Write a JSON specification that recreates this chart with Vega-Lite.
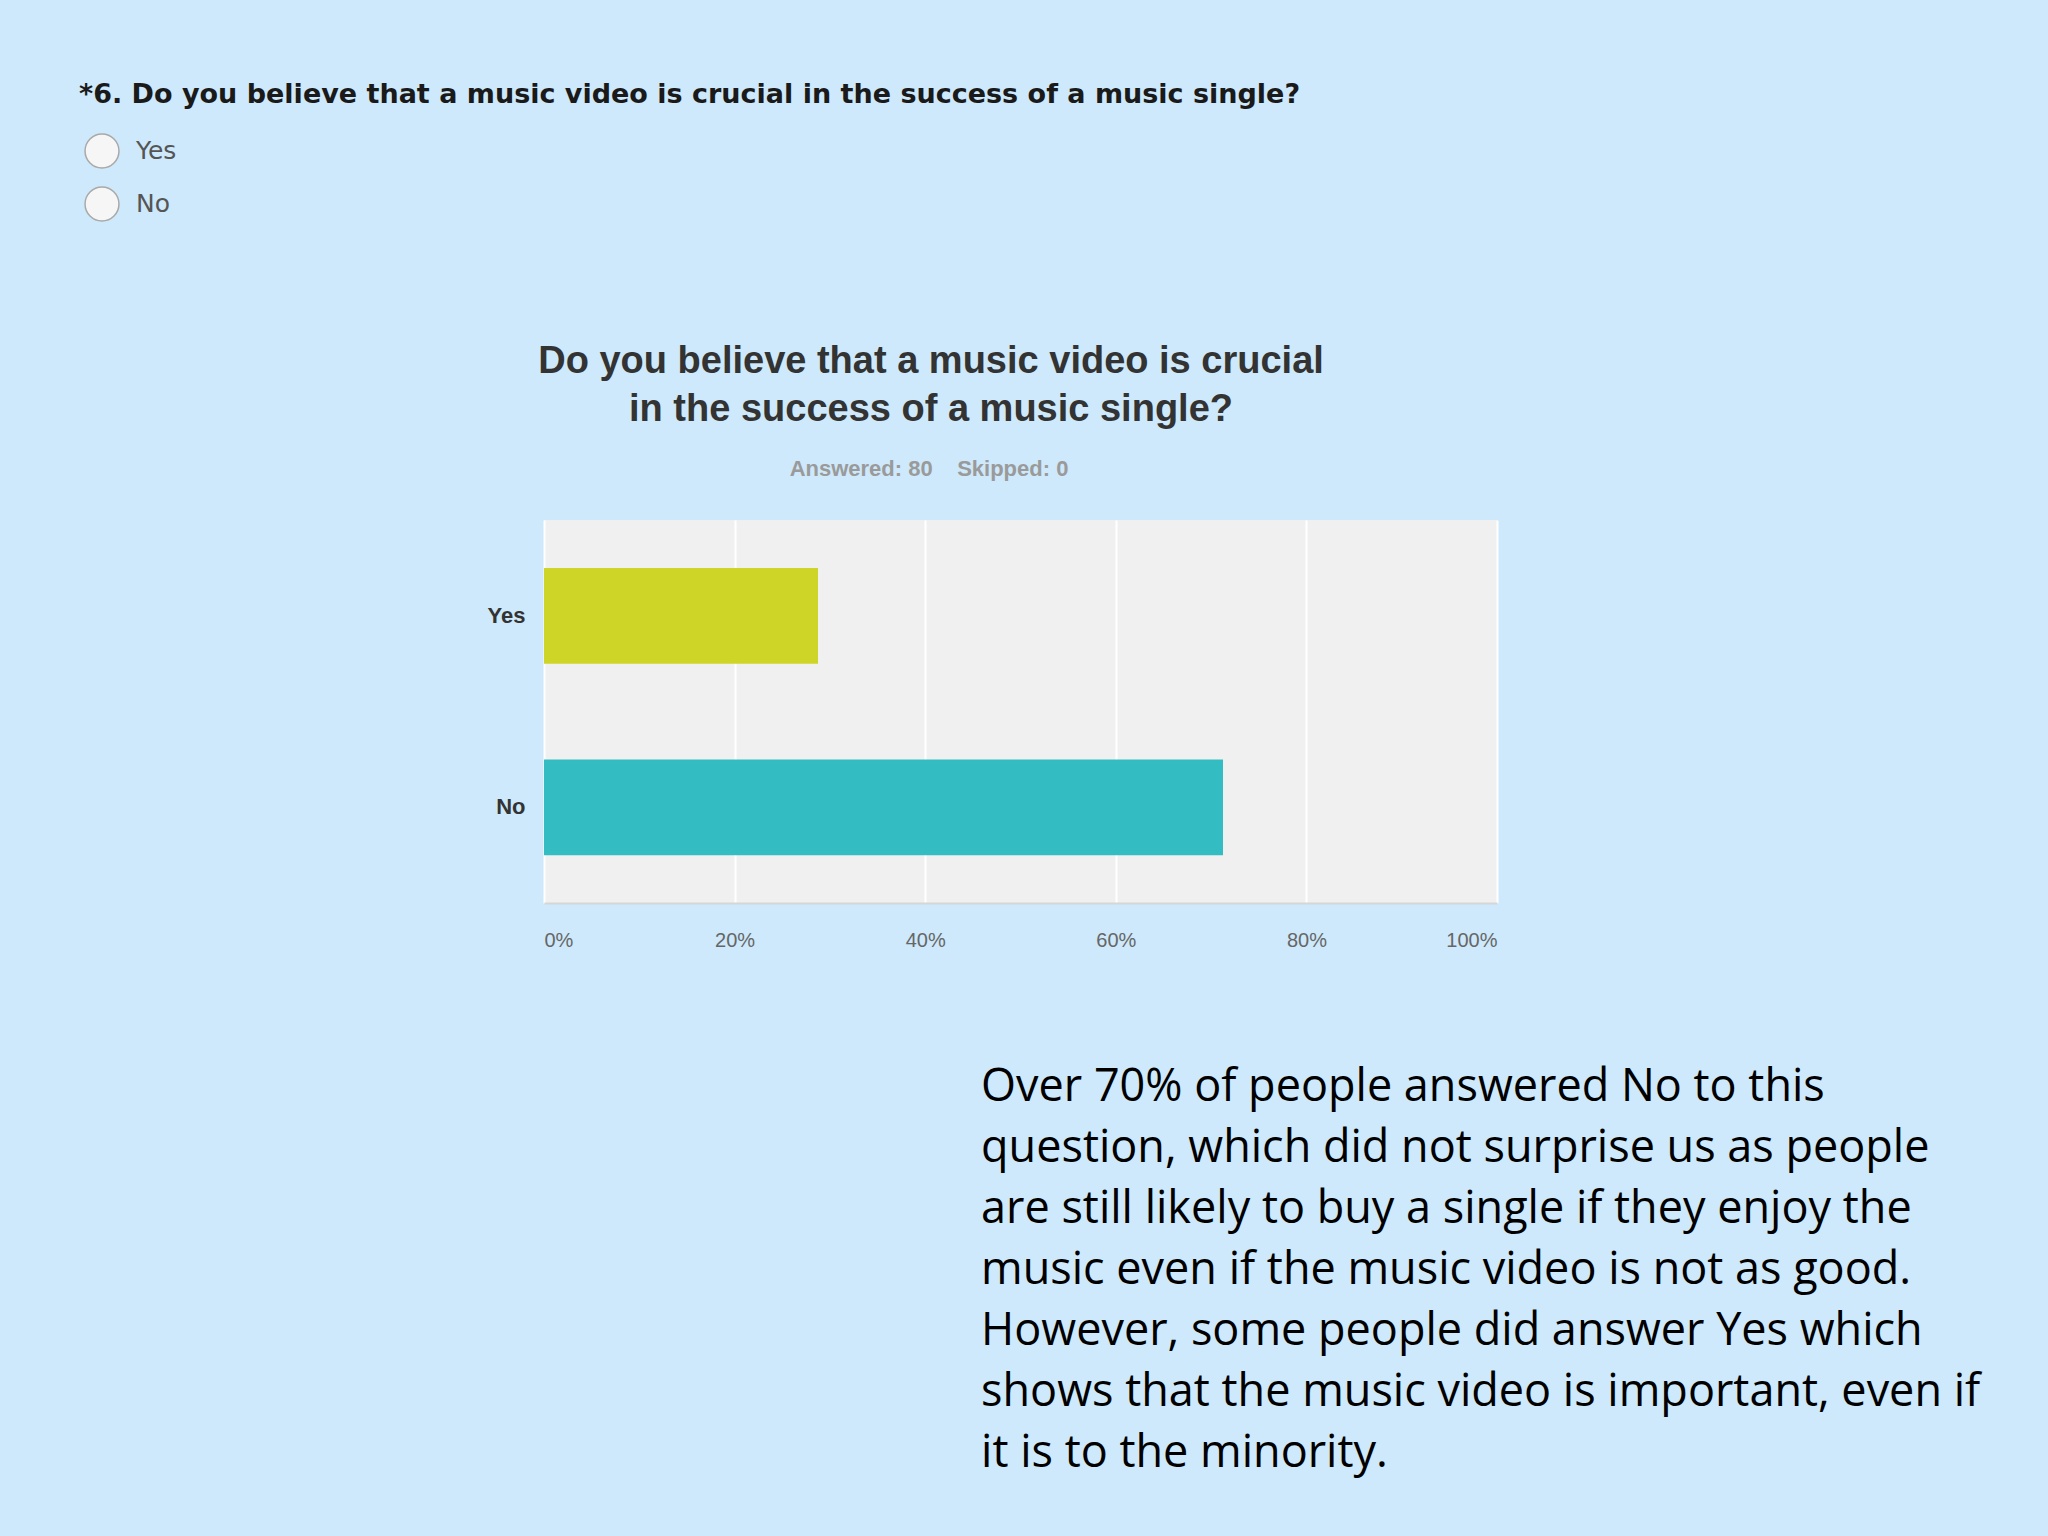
{
  "$schema": "https://vega.github.io/schema/vega-lite/v6.json",
  "description": "Survey question 6: is a music video crucial to a single's success? Answered: 80, Skipped: 0.",
  "width": 953,
  "height": 383,
  "autosize": {"type": "none"},
  "padding": {"left": 544, "top": 520, "right": 551, "bottom": 633},
  "background": "#CDE9FB",
  "config": {
    "font": "Liberation Sans",
    "view": {"fill": "#F1F0F1", "stroke": null}
  },
  "layer": [
    {
      "data": {"values": [
        {"answer": "Yes", "pct": 28.75},
        {"answer": "No", "pct": 71.25}
      ]},
      "mark": {"type": "bar"},
      "encoding": {
        "y": {
          "field": "answer", "type": "nominal", "sort": ["Yes", "No"],
          "scale": {"paddingInner": 0.5, "paddingOuter": 0.25},
          "axis": {"title": null, "ticks": false, "domain": false, "grid": false,
                   "labelFontSize": 22, "labelFontWeight": "bold", "labelColor": "#333333", "labelPadding": 19}
        },
        "x": {
          "field": "pct", "type": "quantitative",
          "scale": {"domain": [0, 100], "nice": false},
          "axis": {"title": null, "values": [0, 20, 40, 60, 80, 100], "labelExpr": "datum.value + '%'",
                   "labelFlush": true, "ticks": false, "domainColor": "#D6D6D6", "domainWidth": 2,
                   "gridColor": "#FFFFFF", "gridWidth": 2, "labelFontSize": 20, "labelColor": "#666666",
                   "labelPadding": 27}
        },
        "color": {
          "field": "answer", "type": "nominal",
          "scale": {"domain": ["Yes", "No"], "range": ["#CED527", "#33BCC1"]},
          "legend": null
        }
      }
    },
    {
      "layer": [
        {
          "data": {"values": [{"text": "*6. Do you believe that a music video is crucial in the success of a music single?"}]},
          "mark": {"type": "text", "align": "left", "baseline": "alphabetic", "font": "DejaVu Sans",
                   "fontWeight": "bold", "fontSize": 27, "color": "#1A1A1A"},
          "encoding": {
            "x": {"datum": -48.79, "type": "quantitative", "scale": {"domain": [0, 100], "nice": false}, "axis": null},
            "y": {"datum": -108.88, "type": "quantitative", "scale": {"domain": [0, 100], "reverse": true, "nice": false, "zero": false}, "axis": null},
            "text": {"field": "text"}
          }
        },
        {
          "data": {"values": [{"text": "Do you believe that a music video is crucial\nin the success of a music single?"}]},
          "mark": {"type": "text", "align": "center", "baseline": "alphabetic", "lineBreak": "\n", "lineHeight": 48,
                   "fontWeight": "bold", "fontSize": 38, "color": "#333333"},
          "encoding": {
            "x": {"datum": 40.61, "type": "quantitative", "scale": {"domain": [0, 100], "nice": false}, "axis": null},
            "y": {"datum": -38.38, "type": "quantitative", "scale": {"domain": [0, 100], "reverse": true, "nice": false, "zero": false}, "axis": null},
            "text": {"field": "text"}
          }
        },
        {
          "data": {"values": [{"text": "Answered: 80\u00a0\u00a0\u00a0\u00a0Skipped: 0"}]},
          "mark": {"type": "text", "align": "center", "baseline": "alphabetic",
                   "fontWeight": "bold", "fontSize": 22, "color": "#9A9A9A"},
          "encoding": {
            "x": {"datum": 40.4, "type": "quantitative", "scale": {"domain": [0, 100], "nice": false}, "axis": null},
            "y": {"datum": -11.49, "type": "quantitative", "scale": {"domain": [0, 100], "reverse": true, "nice": false, "zero": false}, "axis": null},
            "text": {"field": "text"}
          }
        },
        {
          "data": {"values": [{"text": "Over 70% of people answered No to this\nquestion, which did not surprise us as people\nare still likely to buy a single if they enjoy the\nmusic even if the music video is not as good.\nHowever, some people did answer Yes which\nshows that the music video is important, even if\nit is to the minority."}]},
          "mark": {"type": "text", "align": "left", "baseline": "alphabetic", "lineBreak": "\n", "lineHeight": 61,
                   "font": "Open Sans", "fontSize": 45, "color": "#000000"},
          "encoding": {
            "x": {"datum": 45.86, "type": "quantitative", "scale": {"domain": [0, 100], "nice": false}, "axis": null},
            "y": {"datum": 151.62, "type": "quantitative", "scale": {"domain": [0, 100], "reverse": true, "nice": false, "zero": false}, "axis": null},
            "text": {"field": "text"}
          }
        }
      ]
    },
    {
      "data": {"values": [
        {"option": "Yes", "order": 1},
        {"option": "No", "order": 2}
      ]},
      "layer": [
        {
          "mark": {"type": "point", "shape": "circle", "size": 1150, "fill": "#F6F6F6", "fillOpacity": 1,
                   "stroke": "#A9A9A9", "strokeWidth": 1.5, "opacity": 1},
          "encoding": {
            "x": {"datum": -46.38, "type": "quantitative", "scale": {"domain": [0, 100], "nice": false}, "axis": null},
            "y": {"field": "order", "type": "quantitative", "scale": {"domain": [7.9623, 15.1887], "reverse": true, "nice": false, "zero": false}, "axis": null}
          }
        },
        {
          "mark": {"type": "text", "align": "left", "baseline": "middle", "font": "DejaVu Sans",
                   "fontSize": 25, "color": "#555555"},
          "encoding": {
            "x": {"datum": -42.81, "type": "quantitative", "scale": {"domain": [0, 100], "nice": false}, "axis": null},
            "y": {"field": "order", "type": "quantitative", "scale": {"domain": [7.9623, 15.1887], "reverse": true, "nice": false, "zero": false}, "axis": null},
            "text": {"field": "option"}
          }
        }
      ]
    }
  ],
  "resolve": {"scale": {"y": "independent"}, "axis": {"x": "independent"}}
}
